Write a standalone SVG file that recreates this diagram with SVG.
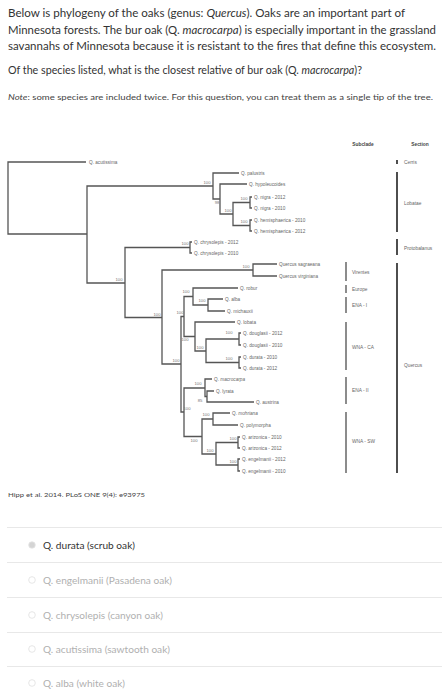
<svg xmlns="http://www.w3.org/2000/svg" width="444" height="700" viewBox="0 0 444 700">
<style>
.t{font-family:Lato,"Liberation Sans",sans-serif;fill:#333;font-size:10.5px}
.n{font-family:Lato,"Liberation Sans",sans-serif;fill:#444;font-size:7.6px}
.i{font-style:italic}
.br{fill:none;stroke:#555;stroke-width:1.3}
.tip{font-family:"Liberation Sans",Arial,sans-serif;font-size:4.7px;fill:#666}
.bs{font-family:"Liberation Sans",Arial,sans-serif;font-size:4.2px;fill:#777;text-anchor:middle}
.sec{stroke:#3a3a3a;stroke-width:1.8}
.sub{stroke:#666;stroke-width:1.5}
.hd{font-family:"Liberation Sans",Arial,sans-serif;font-size:4.8px;font-weight:bold;fill:#444;text-anchor:middle}
.lab{font-family:"Liberation Sans",Arial,sans-serif;font-size:4.8px;fill:#666}
.opt{font-family:Lato,"Liberation Sans",sans-serif;font-size:9.8px;fill:#b0b0b0}
.sep{stroke:#e8e8e8;stroke-width:1}
.rad{fill:#fff;stroke:#e0e0e0;stroke-width:0.8}
</style>
<rect width="444" height="700" fill="#fff"/>
<g id="intro">
<text class="t" x="8" y="17" textLength="397" lengthAdjust="spacingAndGlyphs">Below is phylogeny of the oaks (genus: <tspan class="i">Quercus</tspan>). Oaks are an important part of</text>
<text class="t" x="8" y="34" textLength="428" lengthAdjust="spacingAndGlyphs">Minnesota forests. The bur oak (Q. <tspan class="i">macrocarpa</tspan>) is especially important in the grassland</text>
<text class="t" x="8" y="50" textLength="428" lengthAdjust="spacingAndGlyphs">savannahs of Minnesota because it is resistant to the fires that define this ecosystem.</text>
<text class="t" x="8" y="74" textLength="354" lengthAdjust="spacingAndGlyphs">Of the species listed, what is the closest relative of bur oak (Q. <tspan class="i">macrocarpa</tspan>)?</text>
<text class="n" x="8" y="100" textLength="425" lengthAdjust="spacingAndGlyphs"><tspan class="i">Note</tspan>: some species are included twice. For this question, you can treat them as a single tip of the tree.</text>
</g>
<g id="connectors">
<path class="br" d="M86,162 H8 V234 H87"/>
<path class="br" d="M213,186 H87 V283 H125"/>
<path class="br" d="M239,173 H213 V199 H220"/>
<path class="br" d="M247,184 H220 V214 H233"/>
<path class="br" d="M250,202.5 H233 V225.5 H250"/>
<path class="br" d="M252,197 H250 V208 H252"/>
<path class="br" d="M252,220 H250 V231 H252"/>
<path class="br" d="M190,247.5 H125 V317.5 H162"/>
<path class="br" d="M192,242 H190 V253 H192"/>
<path class="br" d="M253,270 H162 V364 H181"/>
<path class="br" d="M277,264 H253 V276 H277"/>
<path class="br" d="M184,316.5 H181 V412 H184"/>
<path class="br" d="M193,296.5 H184 V336.5 H195"/>
<path class="br" d="M238,288 H193 V305 H208"/>
<path class="br" d="M223,299 H208 V311 H225"/>
<path class="br" d="M235,322 H195 V351 H206"/>
<path class="br" d="M239,339 H206 V362.5 H239"/>
<path class="br" d="M241,333 H239 V345 H241"/>
<path class="br" d="M241,357 H239 V368 H241"/>
<path class="br" d="M205,388 H184 V436.5 H202"/>
<path class="br" d="M212,379 H205 V396.5 H207"/>
<path class="br" d="M214,391 H207 V402 H254"/>
<path class="br" d="M213,419 H202 V454 H216"/>
<path class="br" d="M230,413 H213 V425 H238"/>
<path class="br" d="M238,442.5 H216 V465 H238"/>
<path class="br" d="M240,437 H238 V448 H240"/>
<path class="br" d="M240,459 H238 V471 H240"/>
</g>
<g id="support">
<text class="bs" x="207" y="184">100</text>
<text class="bs" x="217" y="204">98</text>
<text class="bs" x="228" y="212">100</text>
<text class="bs" x="244" y="200">100</text>
<text class="bs" x="244" y="223">100</text>
<text class="bs" x="185" y="245">100</text>
<text class="bs" x="119" y="281">100</text>
<text class="bs" x="157" y="316">100</text>
<text class="bs" x="246" y="268">100</text>
<text class="bs" x="176" y="362">100</text>
<text class="bs" x="180" y="314">100</text>
<text class="bs" x="186" y="293">100</text>
<text class="bs" x="202" y="302">100</text>
<text class="bs" x="185" y="341">100</text>
<text class="bs" x="200" y="349">100</text>
<text class="bs" x="229" y="334">100</text>
<text class="bs" x="229" y="360">100</text>
<text class="bs" x="187" y="410">100</text>
<text class="bs" x="198" y="385">100</text>
<text class="bs" x="200" y="402">85</text>
<text class="bs" x="206" y="416">100</text>
<text class="bs" x="194" y="442">100</text>
<text class="bs" x="210" y="452">100</text>
<text class="bs" x="233" y="440">100</text>
<text class="bs" x="233" y="463">100</text>
</g>
<g id="tips">
<text class="tip" x="89" y="163.6">Q. acutissima</text>
<text class="tip" x="241" y="174.6">Q. palustris</text>
<text class="tip" x="249" y="185.6">Q. hypoleucoides</text>
<text class="tip" x="254" y="198.6">Q. nigra - 2012</text>
<text class="tip" x="254" y="209.6">Q. nigra - 2010</text>
<text class="tip" x="254" y="221.6">Q. hemisphaerica - 2010</text>
<text class="tip" x="254" y="232.6">Q. hemisphaerica - 2012</text>
<text class="tip" x="194" y="243.6">Q. chrysolepis - 2012</text>
<text class="tip" x="194" y="254.6">Q. chrysolepis - 2010</text>
<text class="tip" x="279" y="265.6">Quercus sagraeana</text>
<text class="tip" x="279" y="277.6">Quercus virginiana</text>
<text class="tip" x="240" y="289.6">Q. robur</text>
<text class="tip" x="225" y="300.6">Q. alba</text>
<text class="tip" x="227" y="312.6">Q. michauxii</text>
<text class="tip" x="237" y="323.6">Q. lobata</text>
<text class="tip" x="243" y="334.6">Q. douglasii - 2012</text>
<text class="tip" x="243" y="346.6">Q. douglasii - 2010</text>
<text class="tip" x="243" y="358.6">Q. durata - 2010</text>
<text class="tip" x="243" y="369.6">Q. durata - 2012</text>
<text class="tip" x="214" y="380.6">Q. <tspan class="i">macrocarpa</tspan></text>
<text class="tip" x="216" y="392.6">Q. lyrata</text>
<text class="tip" x="256" y="403.6">Q. austrina</text>
<text class="tip" x="232" y="414.6">Q. <tspan class="i">mohriana</tspan></text>
<text class="tip" x="240" y="426.6">Q. polymorpha</text>
<text class="tip" x="242" y="438.6">Q. arizonica - 2010</text>
<text class="tip" x="242" y="449.6">Q. arizonica - 2012</text>
<text class="tip" x="242" y="460.6">Q. engelmanii - 2012</text>
<text class="tip" x="242" y="472.6">Q. engelmanii - 2010</text>
</g>
<g id="subclades">
<text class="hd" x="363" y="146">Subclade</text>
<line class="sub" x1="346" y1="262" x2="346" y2="281"/><text class="lab" x="352" y="273.5">Virentes</text>
<line class="sub" x1="346" y1="285" x2="346" y2="293"/><text class="lab" x="352" y="290.5">Europe</text>
<line class="sub" x1="346" y1="297" x2="346" y2="313"/><text class="lab" x="352" y="307">ENA - I</text>
<line class="sub" x1="346" y1="322" x2="346" y2="370"/><text class="lab" x="352" y="349">WNA - CA</text>
<line class="sub" x1="346" y1="377" x2="346" y2="404"/><text class="lab" x="352" y="392">ENA - II</text>
<line class="sub" x1="346" y1="412" x2="346" y2="473"/><text class="lab" x="352" y="443">WNA - SW</text>
</g>
<g id="sections">
<text class="hd" x="420" y="146">Section</text>
<line class="sec" x1="397" y1="160" x2="397" y2="164"/><text class="lab" x="404" y="163.5">Cerris</text>
<line class="sec" x1="397" y1="172" x2="397" y2="232"/><text class="lab" x="404" y="204.5">Lobatae</text>
<line class="sec" x1="397" y1="239" x2="397" y2="255"/><text class="lab" x="404" y="250">Protobalanus</text>
<line class="sec" x1="397" y1="263" x2="397" y2="473"/><text class="lab" x="404" y="366.5">Quercus</text>
</g>
<g id="citation">
<text class="n" x="8" y="497" style="font-size:6px" textLength="137" lengthAdjust="spacingAndGlyphs">Hipp et al. 2014. PLoS ONE 9(4): e93975</text>
</g>
<g id="options">
<line class="sep" x1="7" y1="527.5" x2="442" y2="527.5"/>
<line class="sep" x1="7" y1="562.5" x2="442" y2="562.5"/>
<line class="sep" x1="7" y1="597.5" x2="442" y2="597.5"/>
<line class="sep" x1="7" y1="632.5" x2="442" y2="632.5"/>
<line class="sep" x1="7" y1="666.5" x2="442" y2="666.5"/>
<circle cx="32" cy="545" r="3.3" fill="#d4d4d4" stroke="#e4e4e4" stroke-width="0.8"/>
<text class="opt" x="43" y="548.5" style="fill:#333" textLength="92" lengthAdjust="spacingAndGlyphs">Q. durata (scrub oak)</text>
<circle class="rad" cx="32" cy="580" r="3.3"/>
<text class="opt" x="43" y="583.5" textLength="129" lengthAdjust="spacingAndGlyphs">Q. engelmanii (Pasadena oak)</text>
<circle class="rad" cx="32" cy="615" r="3.3"/>
<text class="opt" x="43" y="618.5" textLength="120" lengthAdjust="spacingAndGlyphs">Q. chrysolepis (canyon oak)</text>
<circle class="rad" cx="32" cy="649" r="3.3"/>
<text class="opt" x="43" y="652.5" textLength="127" lengthAdjust="spacingAndGlyphs">Q. acutissima (sawtooth oak)</text>
<circle class="rad" cx="32" cy="683" r="3.3"/>
<text class="opt" x="43" y="686.5" textLength="82" lengthAdjust="spacingAndGlyphs">Q. alba (white oak)</text>
</g>
</svg>
